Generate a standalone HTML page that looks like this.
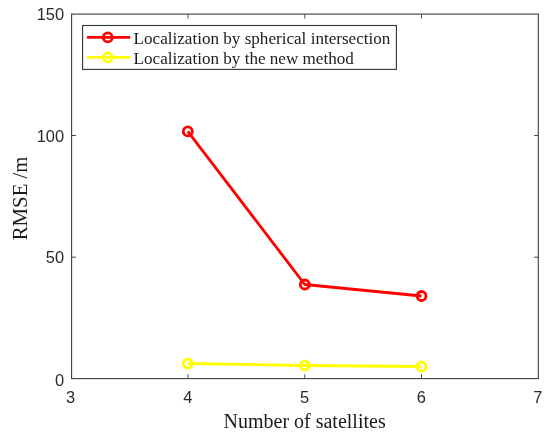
<!DOCTYPE html>
<html><head><meta charset="utf-8">
<style>
html,body{margin:0;padding:0;background:#fff;}
svg{display:block;}
.t{font-family:"Liberation Sans",sans-serif;font-size:17.3px;fill:#2a2a2a;}
.s{font-family:"Liberation Serif",serif;fill:#1c1c1c;}
</style></head><body>
<svg width="550" height="437" viewBox="0 0 550 437">
<rect width="550" height="437" fill="#fff"/>
<!-- axes box -->
<rect x="71.6" y="14.1" width="466.7" height="364.5" fill="none" stroke="#3c3c3c" stroke-width="1.1"/>
<!-- ticks -->
<g stroke="#4a4a4a" stroke-width="1">
<line x1="188" y1="378.5" x2="188" y2="374.3"/><line x1="304.8" y1="378.5" x2="304.8" y2="374.3"/><line x1="421.5" y1="378.5" x2="421.5" y2="374.3"/>
<line x1="188" y1="14.1" x2="188" y2="18.5"/><line x1="304.8" y1="14.1" x2="304.8" y2="18.5"/><line x1="421.5" y1="14.1" x2="421.5" y2="18.5"/>
<line x1="71.6" y1="135.5" x2="76" y2="135.5"/><line x1="71.6" y1="257.2" x2="76" y2="257.2"/>
<line x1="538.3" y1="135.5" x2="534" y2="135.5"/><line x1="538.3" y1="257.2" x2="534" y2="257.2"/>
</g>
<!-- tick labels -->
<g class="t" text-anchor="end">
<text transform="translate(64.1,20.2) scale(0.95,1)">150</text><text transform="translate(64.1,141.8) scale(0.95,1)">100</text><text transform="translate(64.1,263.4) scale(0.95,1)">50</text><text transform="translate(64.1,386.4) scale(0.95,1)">0</text>
</g>
<g class="t" text-anchor="middle">
<text transform="translate(70.6,403.3) scale(0.95,1)">3</text><text transform="translate(187.8,403.3) scale(0.95,1)">4</text><text transform="translate(304.6,403.3) scale(0.95,1)">5</text><text transform="translate(421.2,403.3) scale(0.95,1)">6</text><text transform="translate(537.8,403.3) scale(0.95,1)">7</text>
</g>
<text id="xl" class="s" x="304.6" y="428" text-anchor="middle" style="font-size:20px">Number of satellites</text>
<text id="yl" class="s" transform="translate(27.3,198.4) rotate(-90)" text-anchor="middle" style="font-size:20.8px">RMSE /m</text>
<!-- data -->
<g fill="none" stroke="#ff0000" stroke-width="2.8" stroke-linejoin="round">
<polyline points="187.8,131.4 304.8,284.5 421.5,296"/>
<circle cx="187.8" cy="131.4" r="4.5"/><circle cx="304.8" cy="284.5" r="4.5"/><circle cx="421.5" cy="296" r="4.5"/>
</g>
<g fill="none" stroke="#ffff00" stroke-width="2.8" stroke-linejoin="round">
<polyline points="187.8,363.5 304.8,365.5 421.5,366.5"/>
<circle cx="187.8" cy="363.5" r="4.5"/><circle cx="304.8" cy="365.5" r="4.5"/><circle cx="421.5" cy="366.5" r="4.5"/>
</g>
<!-- legend -->
<rect x="82.6" y="25.5" width="313.8" height="43.9" fill="#fff" stroke="#333" stroke-width="1.1"/>
<g fill="none" stroke-width="2.8">
<line x1="87" y1="37.4" x2="130.2" y2="37.4" stroke="#f00"/><circle cx="107.8" cy="37.4" r="4.5" stroke="#f00"/>
<line x1="87" y1="57.4" x2="130.2" y2="57.4" stroke="#ff0"/><circle cx="107.8" cy="57.4" r="4.5" stroke="#ff0"/>
</g>
<text id="l1" class="s" x="133.6" y="43.8" style="font-size:17.1px">Localization by spherical intersection</text>
<text id="l2" class="s" x="133.6" y="64.1" style="font-size:17.1px">Localization by the new method</text>
</svg>
</body></html>
